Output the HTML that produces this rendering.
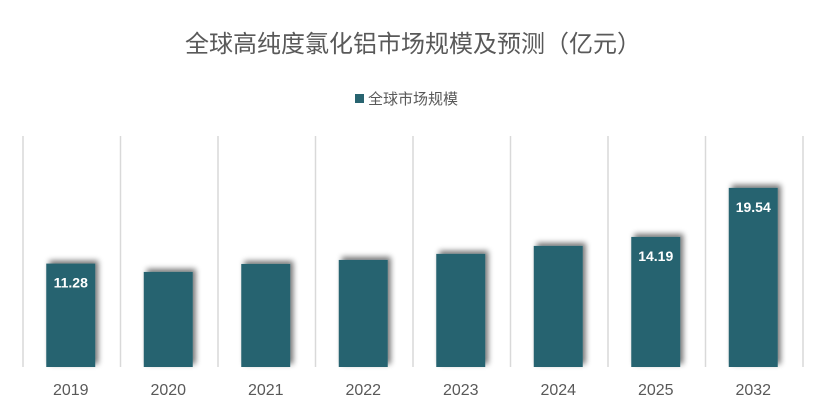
<!DOCTYPE html>
<html><head><meta charset="utf-8"><style>
body{margin:0;background:#fff;width:827px;height:413px;overflow:hidden;font-family:"Liberation Sans","Noto Sans CJK SC",sans-serif;}
</style></head><body>
<svg width="827" height="413" xmlns="http://www.w3.org/2000/svg">
<defs><filter id="sh" x="-30%" y="-30%" width="160%" height="160%"><feGaussianBlur in="SourceAlpha" stdDeviation="3"/><feOffset dx="3" dy="-3"/><feComponentTransfer><feFuncA type="linear" slope="0.55"/></feComponentTransfer><feMerge><feMergeNode/><feMergeNode in="SourceGraphic"/></feMerge></filter></defs>
<text x="413" y="52" text-anchor="middle" font-size="24" fill="#595959" font-family="Liberation Sans,Noto Sans CJK SC,sans-serif">全球高纯度氯化铝市场规模及预测（亿元）</text>
<g>
<rect x="355" y="94" width="9" height="9" fill="#286470"/>
<text x="368" y="104" font-size="15" fill="#595959" font-family="Liberation Sans,Noto Sans CJK SC,sans-serif">全球市场规模</text>
</g>
<g id="grid"></g><g id="bars"></g><g id="labels"></g>
</svg>
<script>
const categories=["2019","2020","2021","2022","2023","2024","2025","2032"];
const values=[11.28,10.37,11.24,11.68,12.34,13.21,14.19,19.54];
const printed=["11.28","","","","","","14.19","19.54"];
const NS="http://www.w3.org/2000/svg";
const x0=23,x1=803,yBase=367,yTop=136,yMax=25.2;
const bw=(x1-x0)/categories.length;
function xs(i){return x0+bw*i;}
function ys(v){return yBase-(yBase-yTop)*v/yMax;}
const grid=document.getElementById('grid'),bars=document.getElementById('bars'),labels=document.getElementById('labels');
for(let i=0;i<=categories.length;i++){
 const l=document.createElementNS(NS,'line');
 
 
 l.setAttribute('x1',xs(i));l.setAttribute('x2',xs(i));l.setAttribute('y1',yTop);l.setAttribute('y2',yBase);
 l.setAttribute('stroke','#d9d9d9');l.setAttribute('stroke-width','1.5');grid.appendChild(l);
}
categories.forEach((c,i)=>{
 const cx=xs(i)+bw/2-1;
 const r=document.createElementNS(NS,'rect');
 
 
 r.setAttribute('x',cx-24.5);r.setAttribute('width',49);
 r.setAttribute('y',ys(values[i]));r.setAttribute('height',yBase-ys(values[i]));
 r.setAttribute('fill','#286470');r.setAttribute('filter','url(#sh)');bars.appendChild(r);
 const t=document.createElementNS(NS,'text');
 
 
 t.setAttribute('x',cx);t.setAttribute('y',395);t.setAttribute('text-anchor','middle');
 t.setAttribute('font-size','16');t.setAttribute('fill','#595959');t.textContent=c;labels.appendChild(t);
 if(printed[i]){
  const v=document.createElementNS(NS,'text');
  
  
  v.setAttribute('x',cx);v.setAttribute('y',ys(values[i])+24);v.setAttribute('text-anchor','middle');
  v.setAttribute('font-size','14');v.setAttribute('font-weight','bold');v.setAttribute('fill','#fff');
  v.textContent=printed[i];labels.appendChild(v);
 }
});
</script>
</body></html>
